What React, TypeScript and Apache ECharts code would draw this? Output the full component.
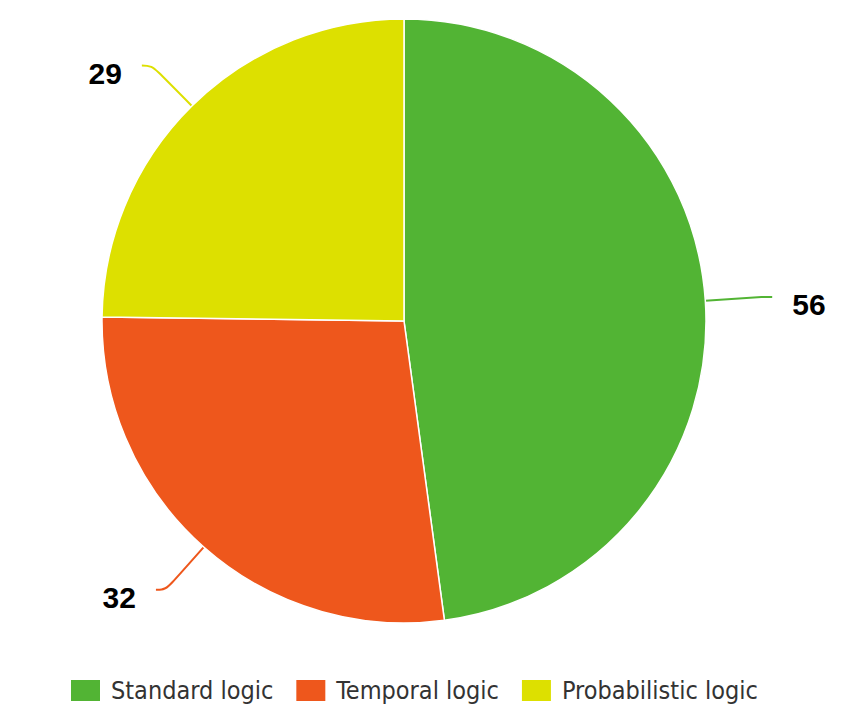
import React, { useEffect, useRef } from "react";
import * as echarts from "echarts";

const categories = ["Standard logic", "Temporal logic", "Probabilistic logic"];
const values = [56, 32, 29];
const colors = ["#52B434", "#EE571C", "#DDE000"];

export default function App() {
  const ref = useRef<HTMLDivElement>(null);
  useEffect(() => {
    document.body.style.margin = "0";
    const chart = echarts.init(ref.current!, null, { renderer: "svg" });
    chart.setOption({
      animation: false,
      color: colors,
      legend: {
        data: categories,
        top: 673,
        left: 64,
        itemWidth: 31,
        itemHeight: 23,
        itemGap: 21,
        icon: "rect",
        textStyle: {
          fontSize: 25,
          color: "#333",
          fontFamily: "DejaVu Sans Condensed, Liberation Sans, sans-serif",
          padding: [0, 0, 0, 5],
        },
      },
      series: [
        {
          type: "pie",
          center: [404, 321],
          radius: 302,
          startAngle: 90,
          clockwise: true,
          data: categories.map((name, i) => ({ name, value: values[i] })),
          itemStyle: { borderColor: "#fff", borderWidth: 1.5 },
          label: {
            show: true,
            position: "outside",
            formatter: "{v|{c}}",
            color: "#000",
            distanceToLabelLine: 20,
            rich: {
              v: {
                fontSize: 30,
                fontWeight: "bold",
                color: "#000",
                fontFamily: "Liberation Sans, Arial, sans-serif",
                padding: [16, 0, 0, 0],
              },
            },
          },
          labelLine: {
            show: true,
            length: 57,
            length2: 10,
            smooth: 0.4,
            lineStyle: { width: 2 },
          },
        },
      ],
    });
    return () => chart.dispose();
  }, []);
  return <div ref={ref} style={{ width: 847, height: 717 }} />;
}
